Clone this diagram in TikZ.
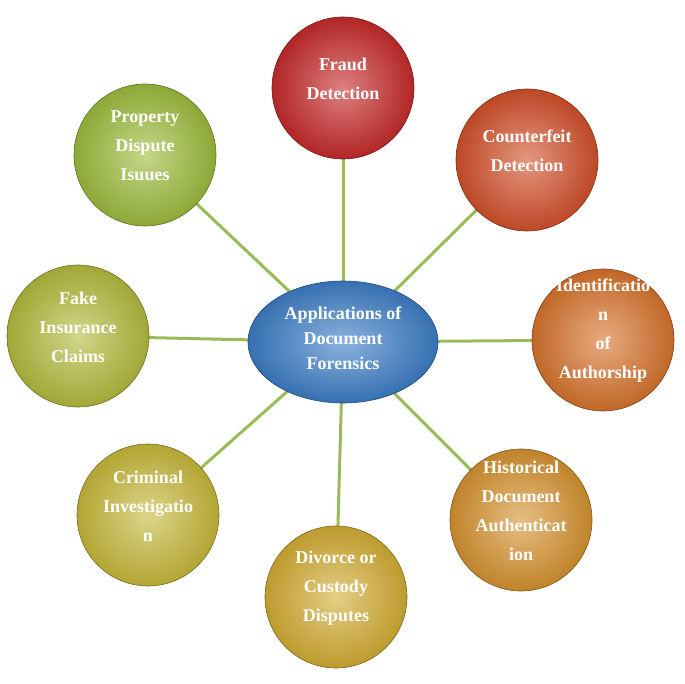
\documentclass[tikz,border=0pt]{standalone}
\usepackage{fontspec}
\setmainfont{Liberation Serif}
\usetikzlibrary{shapes.geometric}
\begin{document}
\begin{tikzpicture}[x=1pt,y=-1pt,
  ballnode/.style={circle,minimum size=142pt,inner sep=0pt,draw=#1!60!black,line width=0.6pt,
     inner color=#1!60!white,outer color=#1!90!black},
  balltext/.style={text=white,font=\bfseries\fontsize{18}{29}\selectfont,align=center,inner sep=0pt,yshift=9pt},
  ]
\definecolor{c1}{HTML}{C62A2A}
\definecolor{c2}{HTML}{D2502A}
\definecolor{c3}{HTML}{D6732C}
\definecolor{c4}{HTML}{D5922F}
\definecolor{c5}{HTML}{D2AC33}
\definecolor{c6}{HTML}{C6B83A}
\definecolor{c7}{HTML}{B3BA3C}
\definecolor{c8}{HTML}{9CBB3C}
\definecolor{lk}{HTML}{9BBB59}
\definecolor{cb}{HTML}{3C7DC6}
\useasboundingbox (0,0) rectangle (685,684);
\coordinate (c) at (343,342);
\foreach \i/\x/\y in {1/343/88,2/527/160,3/603/340,4/521/520,5/336/597,6/148/515,7/78/336,8/145/155}
  \draw[draw=lk,line width=3pt] (c) -- (\x,\y);
\node[ballnode=c1] (a1) at (343,88) {};
\node[ballnode=c2] (a2) at (527,160) {};
\node[ballnode=c3] (a3) at (603,340) {};
\node[ballnode=c4] (a4) at (521,520) {};
\node[ballnode=c5] (a5) at (336,597) {};
\node[ballnode=c6] (a6) at (148,515) {};
\node[ballnode=c7] (a7) at (78,336) {};
\node[ballnode=c8] (a8) at (145,155) {};
\node[balltext] (t1) at (a1.center) {Fraud\\Detection};
\node[balltext] (t2) at (a2.center) {Counterfeit\\Detection};
\node[balltext] (t3) at (a3.center) {Identificatio\\n\\of\\Authorship};
\node[balltext] (t4) at (a4.center) {Historical\\Document\\Authenticat\\ion};
\node[balltext] (t5) at (a5.center) {Divorce or\\Custody\\Disputes};
\node[balltext] (t6) at (a6.center) {Criminal\\Investigatio\\n};
\node[balltext] (t7) at (a7.center) {Fake\\Insurance\\Claims};
\node[balltext] (t8) at (a8.center) {Property\\Dispute\\Isuues};
\node[ellipse,minimum width=190pt,minimum height=122pt,inner sep=0pt,draw=cb!60!black,line width=0.6pt,
  inner color=cb!60!white,outer color=cb!90!black] (ce) at (c) {};
\node[text=white,font=\bfseries\fontsize{18}{25}\selectfont,align=center,yshift=4pt] (ct) at (ce.center) {Applications of\\Document\\Forensics};
\end{tikzpicture}
\end{document}
